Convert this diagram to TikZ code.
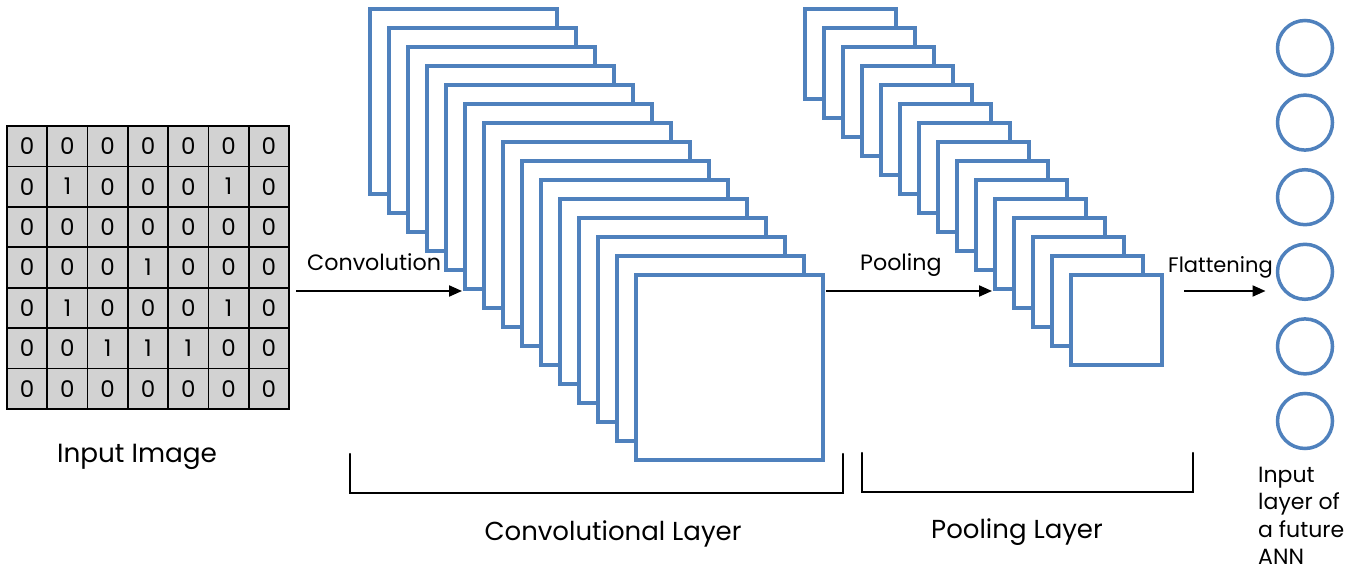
\documentclass[tikz,border=0pt]{standalone}
\usepackage{fontspec}
\setmainfont{Poppins}
\usetikzlibrary{arrows.meta}
\definecolor{cnnblue}{RGB}{79,129,189}
\definecolor{cellgray}{RGB}{210,210,210}
\begin{document}
\begin{tikzpicture}[x=1pt,y=-1pt,
  fmapbig/.style={draw=cnnblue, line width=3.5pt, fill=white, inner sep=0pt, outer sep=0pt,
    minimum width=187pt, minimum height=185pt},
  fmapsmall/.style={draw=cnnblue, line width=3.5pt, fill=white, inner sep=0pt, outer sep=0pt,
    minimum width=91pt, minimum height=90pt},
  neuron/.style={circle, draw=cnnblue, line width=3.5pt, fill=white, inner sep=0pt, outer sep=0pt,
    minimum size=55pt},
  arr/.style={line width=2pt, -{Triangle[length=13pt,width=11pt]}},
  bracketline/.style={line width=2.2pt, line cap=round, line join=miter},
  digit/.style={inner sep=0pt, font=\fontsize{23}{26}\selectfont},
  lbl/.style={inner sep=0pt, anchor=base},
]
\useasboundingbox (0,0) rectangle (1349,577);

% input grid
\node[draw=black, line width=2pt, fill=cellgray, inner sep=0pt, outer sep=1pt,
  minimum width=282pt, minimum height=283pt] (grid) at (148,267.5) {};
\foreach \k in {1,...,6} {
  \draw[line width=1.6pt] (7+\k*40.2857,126) -- (7+\k*40.2857,409);
  \draw[line width=1.6pt] (7,126+\k*40.4286) -- (289,126+\k*40.4286);
}
\foreach \row [count=\r] in {{0,0,0,0,0,0,0},{0,1,0,0,0,1,0},{0,0,0,0,0,0,0},{0,0,0,1,0,0,0},{0,1,0,0,0,1,0},{0,0,1,1,1,0,0},{0,0,0,0,0,0,0}} {
  \foreach \v [count=\c] in \row {
    \node[digit] (d\r\c) at (7+\c*40.2857-20.14,126+\r*40.4286-20.21) {\v};
  }
}
\node[lbl, font=\fontsize{26.3}{30}\selectfont] (inlbl) at (137,462) {Input Image};

% convolutional feature maps
\foreach \i in {1,...,15} {
  \node[fmapbig] (c\i) at (463.5+19*\i-19,101.5+19*\i-19) {};
}
% pooled feature maps
\foreach \i in {1,...,15} {
  \node[fmapsmall] (p\i) at (850.5+19*\i-19,54+19*\i-19) {};
}
% input neurons
\foreach \i in {1,...,6} {
  \node[neuron] (n\i) at (1305,48+74.6*\i-74.6) {};
}

% arrows
\coordinate (arry) at (0,291);
\draw[arr] ([xshift=6pt]grid.east |- arry) -- ([xshift=-3pt]c6.west |- arry);
\draw[arr] ([xshift=3pt]c15.east |- arry) -- ([xshift=-3pt]p11.west |- arry);
\draw[arr] ([xshift=22pt]p15.east |- arry) -- ([xshift=-12pt]n4.west |- arry);

\node[lbl, anchor=base west, font=\fontsize{22.2}{26}\selectfont] (convlbl) at (307,271) {Convolution};
\node[lbl, anchor=base west, font=\fontsize{22.2}{26}\selectfont] (poollbl) at (860,271) {Pooling};
\node[lbl, anchor=base west, font=\fontsize{21}{24}\selectfont] (flatlbl) at (1168,273) {Flattening};

% brackets
\draw[bracketline] (350,454) -- (350,493) -- (843,493) -- (843,454);
\draw[bracketline] (862,453) -- (862,492) -- (1193,492) -- (1193,453);
\node[lbl, font=\fontsize{26}{30}\selectfont] (convlayer) at (613,540) {Convolutional Layer};
\node[lbl, font=\fontsize{26}{30}\selectfont] (poollayer) at (1017,538) {Pooling Layer};

\node[inner sep=0pt, anchor=north west, align=left, font=\fontsize{22}{27.3}\selectfont] (annlbl) at (1258,467) {Input\\layer of\\a future\\ANN};
\end{tikzpicture}
\end{document}
